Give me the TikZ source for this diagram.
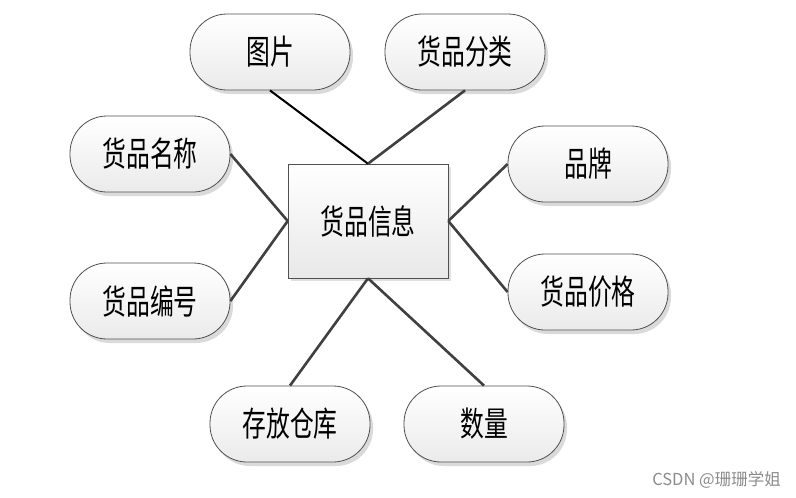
\documentclass[tikz,border=0pt]{standalone}
\usepackage{fontspec}
\setmainfont{Noto Sans CJK SC}
\usetikzlibrary{shadows}
\definecolor{linegray}{HTML}{404040}
\definecolor{edgegray}{HTML}{505050}
\tikzset{
  attr/.style={draw=edgegray, line width=0.8pt, minimum width=160pt, minimum height=76pt,
    rounded corners=37pt, top color=white, bottom color=black!8, inner sep=0pt,
    drop shadow={shadow xshift=3pt, shadow yshift=-4pt, fill=black!18, opacity=0.8},
    font=\fontsize{34pt}{36pt}\selectfont},
  entity/.style={draw=edgegray, line width=0.6pt, minimum width=160pt, minimum height=114pt,
    top color=white, bottom color=black!9, inner sep=0pt,
    drop shadow={shadow xshift=3pt, shadow yshift=-3pt, fill=black!15, opacity=0.8},
    font=\fontsize{34pt}{36pt}\selectfont},
  link/.style={draw=linegray, line width=2.6pt},
  linkb/.style={draw=black, line width=2pt},
}
\newcommand{\nar}[1]{\scalebox{0.7}[1]{#1}}
\begin{document}
\begin{tikzpicture}[x=1pt,y=-1pt]
\useasboundingbox[fill=white] (0,0) rectangle (796,498);
\node[entity] (c) at (368,221) {\nar{货品信息}};
\node[attr] (tp) at (270,52) {\nar{图片}};
\node[attr] (fl) at (465,52) {\nar{货品分类}};
\node[attr] (mc) at (150,154) {\nar{货品名称}};
\node[attr] (bh) at (150,301) {\nar{货品编号}};
\node[attr] (pp) at (588,164) {\nar{品牌}};
\node[attr] (jg) at (588,292) {\nar{货品价格}};
\node[attr] (ck) at (290,424) {\nar{存放仓库}};
\node[attr] (sl) at (484,424) {\nar{数量}};
\draw[linkb] (tp.south) -- (c.north);
\draw[link] (fl.south) -- (c.north);
\draw[link] (mc.east) -- (c.west);
\draw[link] (bh.east) -- (c.west);
\draw[link] (pp.west) -- (c.east);
\draw[link] (jg.west) -- (c.east);
\draw[link] (ck.north) -- (c.south);
\draw[link] (sl.north) -- (c.south);
\node[text=black!45, font=\fontsize{16.5pt}{18pt}\selectfont, anchor=east, inner sep=0pt] (wm) at (781,480) {CSDN @珊珊学姐};
\end{tikzpicture}
\end{document}
